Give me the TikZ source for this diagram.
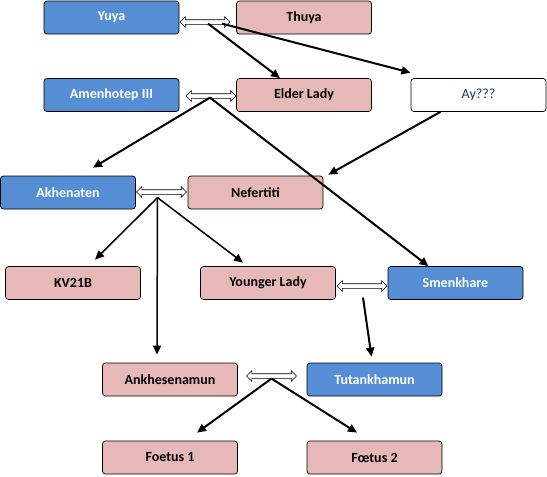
\documentclass[tikz,border=0pt]{standalone}
\usepackage{fontspec}
\setmainfont{Carlito}
\usetikzlibrary{shapes.arrows,arrows.meta}
\definecolor{boxblue}{HTML}{558ED5}
\definecolor{boxpink}{HTML}{E6B9B8}
\definecolor{aytext}{HTML}{1F3A60}
\tikzset{
  person/.style={draw=black, line width=0.7pt, rounded corners=3pt,
    minimum width=135pt, minimum height=33pt, inner sep=0pt,
    font=\fontsize{14}{16}\selectfont\bfseries},
  male/.style={person, fill=boxblue, text=white},
  female/.style={person, fill=boxpink, text=black},
  unknown/.style={person, fill=white, text=aytext, font=\fontsize{14}{16}\selectfont},
  marriage/.style={double arrow, draw=black, fill=white, line width=0.6pt,
    minimum height=50pt, inner sep=2pt,
    double arrow head extend=3pt, double arrow head indent=0pt},
  arr/.style={-{Triangle[length=9pt,width=8pt]}, line width=2pt},
  arrthin/.style={-{Triangle[length=9pt,width=8pt]}, line width=1.5pt}
}
\begin{document}
\begin{tikzpicture}[x=1pt,y=-1pt]
\useasboundingbox (0,0) rectangle (547,477);
% people
\node[male]   (yuya)  at (111.5,17.5) {Yuya};
\node[female] (thuya) at (304,17.5) {Thuya};
\node[male]   (amen)  at (111.5,95) {Amenhotep III};
\node[female] (elder) at (304,95) {Elder Lady};
\node[unknown](ay)    at (478.5,95) {Ay???};
\node[male]   (akh)   at (68,192.5) {Akhenaten};
\node[female] (nef)   at (255.5,192.5) {Nefertiti};
\node[female] (kv)    at (73,283) {KV21B};
\node[female] (yl)    at (268,283) {Younger Lady};
\node[male]   (smen)  at (455.5,283) {Smenkhare};
\node[female] (ankh)  at (170,379.5) {Ankhesenamun};
\node[male]   (tut)   at (374.5,379.5) {Tutankhamun};
\node[female] (f1)    at (170,457.5) {Foetus 1};
\node[female] (f2)    at (374.5,457.5) {Fœtus 2};
% marriages
\node[marriage] (m1) at (205,22) {};
\node[marriage] (m2) at (211,96) {};
\node[marriage] (m3) at (161.5,192) {};
\node[marriage] (m4) at (362,286) {};
\node[marriage] (m5) at (271.5,376) {};
% children
\draw[arr] ([xshift=3pt,yshift=1pt]m1.south) -- ([xshift=-24pt]elder.north);
\draw[arr] ([xshift=17pt,yshift=1pt]m1.south) -- ([xshift=-68pt,yshift=5.5pt]ay.north);
\draw[arr] ([xshift=-1pt,yshift=1pt]m2.south) -- ([xshift=25pt,yshift=8pt]akh.north);
\draw[arr] ([xshift=-1pt,yshift=1pt]m2.south) -- ([xshift=-27pt]smen.north);
\draw[arr] ([xshift=-38pt]ay.south) -- ([xshift=5pt,yshift=1pt]nef.north east);
\draw[arrthin] ([xshift=-4pt,yshift=-3pt]m3.south) -- ([xshift=22pt,yshift=6.5pt]kv.north);
\draw[arrthin] ([xshift=-4pt,yshift=-3pt]m3.south) -- ([xshift=-25pt,yshift=3.5pt]yl.north);
\draw[arrthin] ([xshift=-4pt,yshift=-3pt]m3.south) -- ([xshift=-13pt,yshift=8pt]ankh.north);
\draw[arr] ([xshift=1pt,yshift=-9pt]m4.south) -- ([xshift=-3pt,yshift=6pt]tut.north);
\draw[arr] ([yshift=0pt]m5.south) -- ([xshift=27pt,yshift=8pt]f1.north);
\draw[arr] ([yshift=0pt]m5.south) -- ([xshift=-17.5pt,yshift=8pt]f2.north);
\end{tikzpicture}
\end{document}
